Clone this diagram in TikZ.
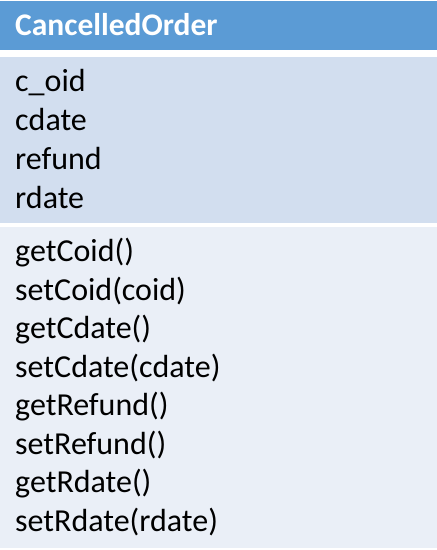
\documentclass[tikz,border=0pt]{standalone}
\usepackage{fontspec}
\setmainfont{Carlito}
\definecolor{headblue}{HTML}{5B9BD5}
\definecolor{attrblue}{HTML}{D2DEEF}
\definecolor{methblue}{HTML}{EAEFF7}
\begin{document}
\begin{tikzpicture}[x=1pt,y=-1pt,
  txt/.style={anchor=base west,inner sep=0pt,font=\fontsize{32}{38}\selectfont}]
\useasboundingbox (0,0) rectangle (437,550);
\fill[white] (0,0) rectangle (437,550);
\coordinate (TL) at (0,1);
\coordinate (HB) at (437,50);
\coordinate (AT) at (0,57);
\coordinate (AB) at (437,223);
\coordinate (MT) at (0,227);
\coordinate (MB) at (437,548);
\fill[headblue] (TL) rectangle (HB);
\fill[attrblue] (AT) rectangle (AB);
\fill[methblue] (MT) rectangle (MB);
\node[txt, white, font=\fontsize{31.5}{38}\selectfont\bfseries] (name) at (15,35) {CancelledOrder};
% attributes
\node[txt] (coid)   at (15,91.7)  {c\_oid};
\node[txt] (cdate)  at (15,130.5) {cdate};
\node[txt] (refund) at (15,169.2) {refund};
\node[txt] (rdate)  at (15,208)   {rdate};
% methods
\node[txt] (getcoid)   at (15,261.7) {getCoid()};
\node[txt] (setcoid)   at (15,300.2) {setCoid(coid)};
\node[txt] (getcdate)  at (15,338.7) {getCdate()};
\node[txt] (setcdate)  at (15,377.2) {setCdate(cdate)};
\node[txt] (getrefund) at (15,415.5) {getRefund()};
\node[txt] (setrefund) at (15,454)   {setRefund()};
\node[txt] (getrdate)  at (15,492.5) {getRdate()};
\node[txt] (setrdate)  at (15,531.5) {setRdate(rdate)};
\end{tikzpicture}
\end{document}
